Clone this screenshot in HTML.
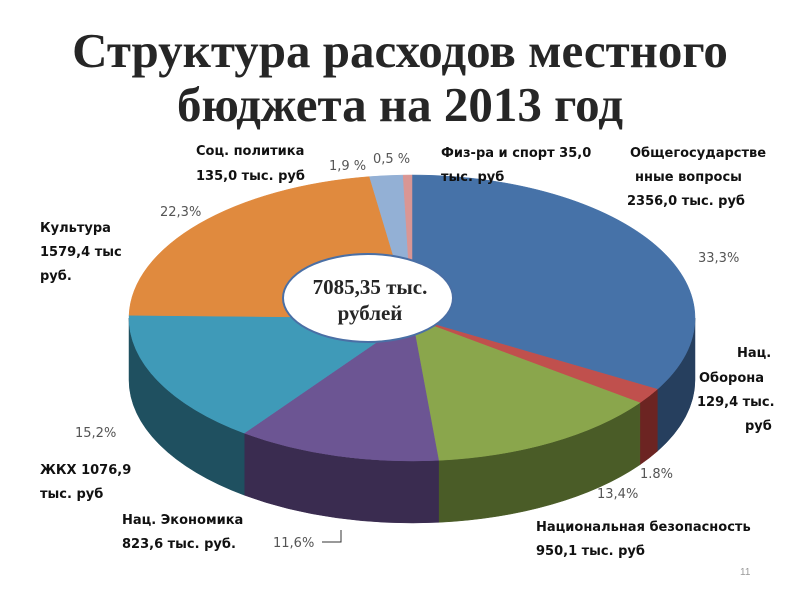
<!DOCTYPE html>
<html><head><meta charset="utf-8"><style>
body{margin:0;background:#fff;}
#wrap{position:relative;width:800px;height:600px;overflow:hidden;background:#fff;}
.t{font-family:"Liberation Serif",serif;font-weight:bold;fill:#262626;}
.lb{font-family:"DejaVu Sans","Liberation Sans",sans-serif;font-size:13px;fill:#111;}
.pc{font-family:"DejaVu Sans","Liberation Sans",sans-serif;font-size:13px;fill:#555;}
</style></head><body>
<div id="wrap">
<svg id="svg" width="800" height="600" xmlns="http://www.w3.org/2000/svg">
<text class="t" x="400" y="67" font-size="49" text-anchor="middle">Структура расходов местного</text>
<text class="t" x="400" y="121" font-size="49" text-anchor="middle">бюджета на 2013 год</text>
<g id="pie"></g>
<g>
<ellipse cx="368" cy="298" rx="85" ry="44" fill="#fff" stroke="#4a6fa5" stroke-width="2"/>
<text class="t" x="370" y="294" font-size="21" text-anchor="middle" fill="#111">7085,35 тыс.</text>
<text class="t" x="370" y="320" font-size="21" text-anchor="middle" fill="#111">рублей</text>
</g>
<g>
<text class="lb" font-weight="bold" x="196" y="155">Соц. политика</text>
<text class="lb" font-weight="bold" x="196" y="180">135,0 тыс. руб</text>
<text class="pc" x="329" y="170">1,9 %</text>
<text class="pc" x="373" y="163">0,5 %</text>
<text class="lb" font-weight="bold" x="441" y="157">Физ-ра и спорт 35,0</text>
<text class="lb" font-weight="bold" x="441" y="181">тыс. руб</text>
<text class="lb" font-weight="bold" x="630" y="157">Общегосударстве</text>
<text class="lb" font-weight="bold" x="635" y="181">нные вопросы</text>
<text class="lb" font-weight="bold" x="627" y="205">2356,0 тыс. руб</text>
<text class="pc" x="698" y="262">33,3%</text>
<text class="lb" font-weight="bold" x="40" y="232">Культура</text>
<text class="lb" font-weight="bold" x="40" y="256">1579,4 тыс</text>
<text class="lb" font-weight="bold" x="40" y="280">руб.</text>
<text class="pc" x="160" y="216">22,3%</text>
<text class="lb" font-weight="bold" x="737" y="357">Нац.</text>
<text class="lb" font-weight="bold" x="699" y="382">Оборона</text>
<text class="lb" font-weight="bold" x="697" y="406">129,4 тыс.</text>
<text class="lb" font-weight="bold" x="745" y="430">руб</text>
<text class="pc" x="75" y="437">15,2%</text>
<text class="pc" x="640" y="478">1.8%</text>
<text class="pc" x="597" y="498">13,4%</text>
<text class="lb" font-weight="bold" x="40" y="474">ЖКХ 1076,9</text>
<text class="lb" font-weight="bold" x="40" y="498">тыс. руб</text>
<text class="lb" font-weight="bold" x="122" y="524">Нац. Экономика</text>
<text class="lb" font-weight="bold" x="122" y="548">823,6 тыс. руб.</text>
<text class="pc" x="273" y="547">11,6%</text>
<polyline points="322,542 341,542 341,530" fill="none" stroke="#333" stroke-width="1"/>
<text class="lb" font-weight="bold" x="536" y="531">Национальная безопасность</text>
<text class="lb" font-weight="bold" x="536" y="555">950,1 тыс. руб</text>
<text x="740" y="575" font-family="Liberation Sans,sans-serif" font-size="10" fill="#999">11</text>
</g>
</svg>
</div>
<script>
const categories=["Общегосударственные вопросы","Нац. оборона","Нац. безопасность","Нац. экономика","ЖКХ","Культура","Соц. политика","Физ-ра и спорт"];
const values=[33.3,1.8,13.4,11.6,15.2,22.3,1.9,0.5];
const topColors=["#4672a8","#c0504d","#8aa64c","#6c5593","#3f9ab8","#e08a3e","#93b0d5","#d99694"];
const sideColors=["#263f5e","#6c2422","#4a5c27","#3a2c50","#1f5060","#7e4a1c","#506580","#7a5150"];
const cx=412,cy=318,rx=283,ry=143,depth=62;
const g=document.getElementById('pie');
const NS="http://www.w3.org/2000/svg";
function pt(t,dy){return [cx+rx*Math.sin(t),cy-ry*Math.cos(t)+(dy||0)];}
function arc(t0,t1,dy){const p=pt(t1,dy);const large=(t1-t0)>Math.PI?1:0;return `A${rx},${ry} 0 ${large} 1 ${p[0].toFixed(2)},${p[1].toFixed(2)}`;}
const total=values.reduce((a,b)=>a+b,0);
let acc=0;const angles=[];
values.forEach(v=>{const a0=acc/total*2*Math.PI;acc+=v;angles.push([a0,acc/total*2*Math.PI]);});
angles.forEach(([a0,a1],i)=>{
  const s=Math.max(a0,Math.PI/2),e=Math.min(a1,3*Math.PI/2);
  if(e<=s)return;
  const p0=pt(s),p1b=pt(e,depth);
  const d=`M${p0[0]},${p0[1]} ${arc(s,e,0)} L${p1b[0]},${p1b[1]} A${rx},${ry} 0 0 0 ${pt(s,depth)[0]},${pt(s,depth)[1]} Z`;
  const el=document.createElementNS(NS,'path');
  el.setAttribute('d',d);el.setAttribute('fill',sideColors[i]);el.setAttribute('stroke',sideColors[i]);el.setAttribute('stroke-width','0.5');
  
  
  g.appendChild(el);
});
angles.forEach(([a0,a1],i)=>{
  const p0=pt(a0);
  const d=`M${cx},${cy} L${p0[0]},${p0[1]} ${arc(a0,a1,0)} Z`;
  const el=document.createElementNS(NS,'path');
  el.setAttribute('d',d);el.setAttribute('fill',topColors[i]);el.setAttribute('stroke',topColors[i]);el.setAttribute('stroke-width','0.5');
  
  
  g.appendChild(el);
});
</script>
</body></html>
